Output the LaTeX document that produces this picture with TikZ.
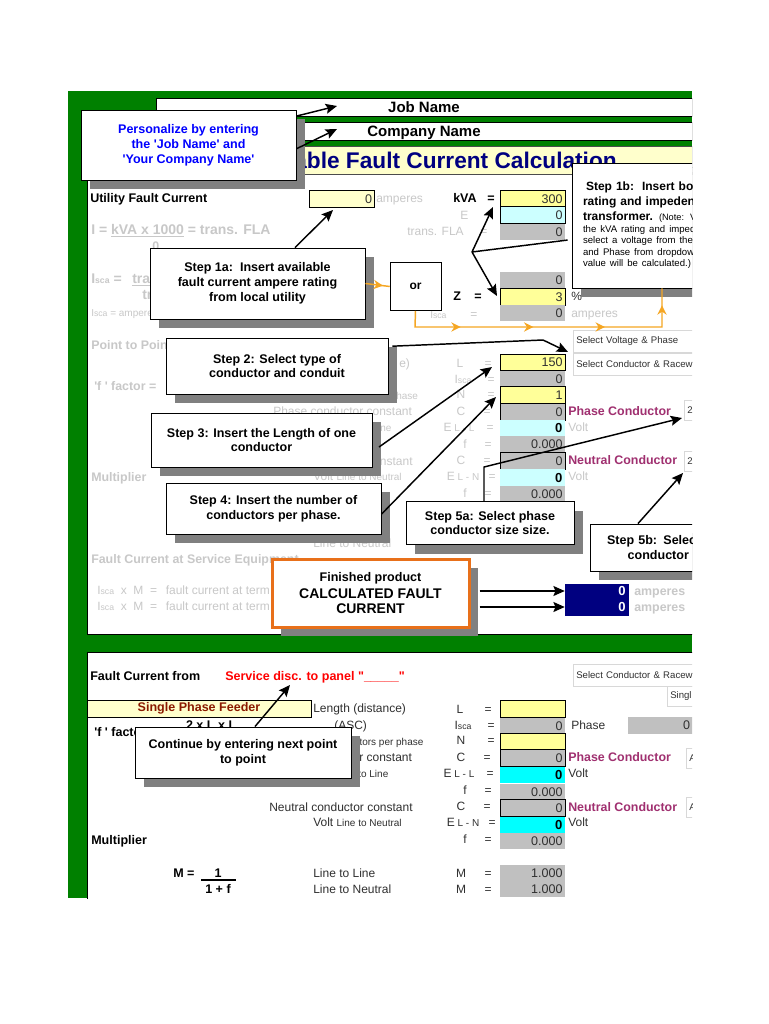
\documentclass[tikz,border=0pt]{standalone}
\usepackage{fontspec}
\setmainfont{Liberation Sans}
\usetikzlibrary{arrows.meta,shadows,decorations.markings}
\definecolor{sheetgreen}{HTML}{008000}
\definecolor{cellyellow}{HTML}{FFFF99}
\definecolor{paleyellow}{HTML}{FFFFCC}
\definecolor{palecyan}{HTML}{CCFFFF}
\definecolor{cellcyan}{HTML}{00FFFF}
\definecolor{cellgray}{HTML}{C0C0C0}
\definecolor{shadegray}{HTML}{808080}
\definecolor{fadetext}{HTML}{C8C8C8}
\definecolor{darktext}{HTML}{303030}
\definecolor{wirecolor}{HTML}{F5A623}
\definecolor{framecolor}{HTML}{E8701A}
\definecolor{condcolor}{HTML}{A03070}
\definecolor{feedercolor}{HTML}{8B1A00}
\definecolor{titlecolor}{HTML}{000080}
\definecolor{ddline}{HTML}{D8D8D8}
\newcommand{\isca}{I{\fontsize{6.5}{7}\selectfont sca}}
\newcommand{\sq}{\textquotesingle}
\begin{document}
\begin{tikzpicture}[x=0.75pt,y=-0.75pt]
	\edef\px{0.75pt}
	\tikzstyle{lbl}=[inner sep=0pt,text height=6.75pt,text depth=0pt,font=\fontsize{9}{11}\selectfont]
	\tikzstyle{fw}=[lbl,text=fadetext,anchor=west]
	\tikzstyle{fc}=[lbl,text=fadetext]
	\tikzstyle{fe}=[lbl,text=fadetext,anchor=east]
	\tikzstyle{fb}=[fw,font=\fontsize{9.3}{11}\selectfont\bfseries]
	\tikzstyle{fl}=[fw,font=\fontsize{10.5}{12}\selectfont\bfseries]
	\tikzstyle{fs}=[fw,font=\fontsize{7.5}{9}\selectfont]
	\tikzstyle{dw}=[lbl,text=darktext,anchor=west]
	\tikzstyle{dc}=[lbl,text=darktext]
	\tikzstyle{de}=[lbl,text=darktext,anchor=east]
	\tikzstyle{ds}=[dw,font=\fontsize{7.5}{9}\selectfont]
	\tikzstyle{kw}=[lbl,anchor=west,font=\fontsize{9.4}{11}\selectfont\bfseries]
	\tikzstyle{kc}=[lbl,font=\fontsize{9.4}{11}\selectfont\bfseries]
	\tikzstyle{cond}=[kw,text=condcolor,font=\fontsize{9.3}{11}\selectfont\bfseries]
	\tikzstyle{cell}=[inner xsep=1.5pt,inner ysep=0pt,minimum width=65*\px,text width=60*\px,align=right,minimum height=16.5*\px,font=\fontsize{9.4}{11}\selectfont,text=darktext]
	\tikzstyle{gcell}=[cell,fill=cellgray]
	\tikzstyle{gbcell}=[cell,fill=cellgray,draw=black]
	\tikzstyle{ycell}=[cell,fill=cellyellow,draw=black]
	\tikzstyle{cbcell}=[cell,fill=palecyan,draw=black]
	\tikzstyle{ccell}=[cell,fill=palecyan,font=\fontsize{9.8}{11}\selectfont\bfseries,text=black]
	\tikzstyle{acell}=[cell,fill=cellcyan,font=\fontsize{9.8}{11}\selectfont\bfseries,text=black]
	\tikzstyle{namebar}=[draw=black,fill=white,minimum height=18*\px,minimum width=536*\px,inner sep=0pt,text height=8pt,text depth=0pt,font=\fontsize{11.25}{13}\selectfont\bfseries]
	\tikzstyle{ddbox}=[draw=ddline,fill=white,anchor=west,inner xsep=2.25pt,inner ysep=0pt,minimum height=22*\px,align=left,font=\fontsize{7.2}{9}\selectfont,text=darktext]
	\tikzstyle{callout}=[draw=black,line width=0.7pt,fill=white,inner sep=0pt,align=center,font=\fontsize{9.4}{11.2}\selectfont\bfseries,drop shadow={fill=shadegray,opacity=1,shadow xshift=6.75pt,shadow yshift=-6.75pt}]
	\tikzstyle{pointer}=[draw=black,line width=1.1pt,-{Stealth[length=8.5pt,width=7.5pt,inset=1.5pt]}]
	\tikzstyle{wire}=[draw=wirecolor,line width=1.1pt]

	\useasboundingbox (0,0) rectangle (768,1024);
	\begin{scope}
	\clip (68,91) rectangle (692,898);

	% the sheet
	\fill [sheetgreen] (68,91) rectangle (692,898);
	\draw [black,fill=white,line width=0.6pt] (87,167) rectangle (700,634);
	\draw [black,fill=white,line width=0.6pt] (87,652) rectangle (700,910);

	\node [namebar] (job) at (424,107) {Job Name};
	\node [namebar] (company) at (424,131) {Company Name};
	\node [draw=black!70,fill=paleyellow,minimum width=536*\px,minimum height=28*\px,inner sep=0pt] (titlebar) at (424,160) {};
	\node [inner sep=0pt,anchor=east,text=titlecolor,font=\fontsize{17}{20}\selectfont\bfseries] (title) at (617,160) {able Fault Current Calculation};

	% faded text, upper sheet
	\foreach \x/\y/\sty/\txt [count=\i] in {
		91/230/fl/{I = \underline{kVA x 1000} = trans. FLA},
		152/246/fb/0,
		91/279/fl/{\isca\ =},
		132/279/fl/{\underline{tra}},
		142/295/fl/tr,
		91/312/fs/{\isca\ = ampere},
		91/345/fb/{Point to Point},
		94/386/fb/{\sq f \sq\ factor =},
		91/477/fb/Multiplier,
		91/559/fb/{Fault Current at Service Equipment},
		97/590/fw/{\isca\ \ x\ \ M\ \ =\ \ \,fault current at term},
		97/606/fw/{\isca\ \ x\ \ M\ \ =\ \ \,fault current at term},
		376/198/fw/amperes,
		571/313/fw/amperes,
		407/231/fw/{trans. FLA},
		460/215/fw/E,
		480/231/fw/=,
		430/314/fs/\isca,
		470/314/fw/=,
		568/427/fw/Volt,
		568/476/fw/Volt,
		399/363/fw/e),
		380/427/fs/ne,
		396/395/fs/hase,
		313/543/fw/{Line to Neutral},
		634/591/fb/amperes,
		634/607/fb/amperes
	} \node [\sty] (fade\i) at (\x,\y) {\txt};

	% text beside the cells, both sheets
	\foreach \oy/\sy/\sa/\pn in {0/fc/fw/a,346/dc/dw/b} {
		\foreach \lx/\ex/\ly/\lt [count=\i] in {
			460/488/363/L,
			463/491/379/\isca,
			461/491/394/N,
			461/487/411/C,
			459/490/427/{E{\fontsize{7.5}{9}\selectfont\ L - L}},
			465/488/444/f,
			461/487/460/C,
			463/492/476/{E{\fontsize{7.5}{9}\selectfont\ L - N}},
			465/488/493/f
		} {
			\node [\sy] (sym\pn\i) at (\lx,{\ly+\oy}) {\lt};
			\node [\sy] (eq\pn\i) at (\ex,{\ly+\oy}) {=};
		}
		\node [\sa] (pcc\pn) at (273,{411+\oy}) {Phase conductor constant};
		\node [\sa] (ncc\pn) at (269,{461+\oy}) {Neutral conductor constant};
		\node [\sa] (vln\pn) at (313,{476+\oy}) {Volt {\fontsize{7.5}{9}\selectfont Line to Neutral}};
	}

	% dark text
	\foreach \x/\y/\sty/\txt [count=\i] in {
		90/198/kw/{Utility Fault Current},
		453/198/kw/kVA,
		491/198/kc/=,
		453/296/kw/Z,
		478/296/kc/=,
		571/296/dw/\%,
		90/676/kw/{Fault Current from},
		94/732/kw/{\sq f \sq\ factor =},
		209/725/kc/{2 x L x I},
		91/840/kw/Multiplier,
		173/873/kw/{M =},
		218/873/kc/1,
		218/889/kc/{1 + f},
		313/708/dw/{Length (distance)},
		334/725/dw/{(ASC)},
		327/741/ds/{conductors per phase},
		313/773/dw/{Volt {\fontsize{7.5}{9}\selectfont Line to Line}},
		313/873/dw/{Line to Line},
		313/889/dw/{Line to Neutral},
		461/873/dc/M,
		461/889/dc/M,
		488/873/dc/=,
		488/889/dc/=,
		571/725/dw/Phase,
		568/773/dw/Volt,
		568/822/dw/Volt
	} \node [\sty] (dark\i) at (\x,\y) {\txt};
	\draw [black,line width=0.8pt] (201,880) -- (236,880);
	\node [kw,text=red] (panel) at (225,676) {Service disc. to panel \textquotedbl\_\_\_\_\_\textquotedbl};
	\node [draw=black,fill=paleyellow,minimum width=224*\px,minimum height=17*\px,inner sep=0pt,text=feedercolor,font=\fontsize{9.4}{11}\selectfont\bfseries] (feeder) at (199,708.5) {Single Phase Feeder};
	\node [cond] (phasea) at (568,411) {Phase Conductor};
	\node [cond] (neuta) at (568,460) {Neutral Conductor};
	\node [cond] (phaseb) at (568,757) {Phase Conductor};
	\node [cond] (neutb) at (568,807) {Neutral Conductor};

	% cells
	\node [cell,fill=paleyellow,draw=black] (utility) at (342,199) {0};
	\foreach \y/\sty/\val [count=\i] in {
		199/ycell/300, 215/cbcell/0, 232/gcell/0,
		280.5/gcell/0, 297/ycell/3, 313/gcell/0,
		362.5/ycell/150, 379/gcell/0, 395/ycell/1, 412/gbcell/0, 428/ccell/0,
		444.5/gcell/0.000, 461/gbcell/0, 477.5/ccell/0, 494/gcell/0.000
	} \node [\sty] (ca\i) at (532.5,\y) {\val};
	\foreach \y/\sty/\val [count=\i] in {
		709/ycell/{}, 726/gcell/0, 742/ycell/{}, 758/gbcell/0, 775/acell/0,
		792/gcell/0.000, 808/gbcell/0, 825/acell/0, 841/gcell/0.000,
		873/gcell/1.000, 889/gcell/1.000
	} \node [\sty] (cb\i) at (532.5,\y) {\val};
	\node [gcell] (cphase) at (660,725.5) {0};
	\node [fill=titlecolor,minimum width=64*\px,minimum height=32*\px,inner sep=0pt] (blue) at (597,600) {};
	\node [lbl,anchor=east,text=white,font=\fontsize{9.8}{11}\selectfont\bfseries] (bluea) at (626,591) {0};
	\node [lbl,anchor=east,text=white,font=\fontsize{9.8}{11}\selectfont\bfseries] (blueb) at (626,607) {0};

	% dropdowns
	\node [ddbox,text width=160*\px] (ddvolt) at (573,341) {Select Voltage \& Phase};
	\node [ddbox,text width=160*\px] (ddcond) at (573,364.5) {Select Conductor \& Racew};
	\node [ddbox,text width=160*\px] (ddcondb) at (573,675.5) {Select Conductor \& Racew};
	\node [ddbox,text width=60*\px,minimum height=20*\px] (ddsingle) at (667,696) {Singl};
	\node [ddbox,text width=30*\px,minimum height=20*\px] (sizea) at (684,410) {2};
	\node [ddbox,text width=30*\px,minimum height=20*\px] (sizeb) at (684,461) {2};
	\node [ddbox,text width=30*\px,minimum height=20*\px] (sizec) at (686,758) {A};
	\node [ddbox,text width=30*\px,minimum height=20*\px] (sized) at (686,807) {A};

	% callouts
	\node [callout,text=blue,minimum width=215*\px,minimum height=70*\px] (personal) at (188.5,145) {Personalize by entering\\the \sq Job Name\sq\ and\\\sq Your Company Name\sq};
	\node [callout,minimum width=215*\px,minimum height=71*\px] (s1a) at (257.5,283.5) {Step 1a:\ \ Insert available\\fault current ampere rating\\from local utility};
	\node [draw=black,fill=white,minimum width=51*\px,minimum height=48*\px,inner sep=0pt,font=\fontsize{9}{11}\selectfont\bfseries] (or) at (415.5,286.5) {or};
	\node [callout,minimum width=228*\px,minimum height=125*\px,align=left,text width=206*\px,font=\fontsize{9}{11}\selectfont] (s1b) at (686,225.5) {\hspace{2.25pt}\textbf{Step 1b:\ \ Insert bo}\\\textbf{rating and impeden}\\\textbf{transformer.} {\fontsize{6.9}{8.5}\selectfont(Note: V}\\[-2pt]
		{\fontsize{7.2}{8.5}\selectfont the kVA rating and imped}\\[-2.4pt]{\fontsize{7.2}{8.5}\selectfont select a voltage from the}\\[-2.4pt]{\fontsize{7.2}{8.5}\selectfont and Phase from dropdow}\\[-2.4pt]{\fontsize{7.2}{8.5}\selectfont value will be calculated.)}\\[7pt]};
	\node [callout,minimum width=222*\px,minimum height=56*\px] (s2) at (277,366) {Step 2: Select type of\\conductor and conduit};
	\node [callout,minimum width=221*\px,minimum height=54*\px] (s3) at (261.5,440) {Step 3: Insert the Length of one\\conductor};
	\node [callout,minimum width=215*\px,minimum height=51*\px] (s4) at (273.5,508.5) {Step 4: Insert the number of\\conductors per phase.};
	\node [callout,minimum width=168*\px,minimum height=43*\px] (s5a) at (490,523) {Step 5a: Select phase\\conductor size size.};
	\node [callout,minimum width=200*\px,minimum height=47*\px,align=left,text width=182*\px] (s5b) at (690,547.5) {\hspace{6pt}Step 5b: Selec\\\hspace{21.5pt}conductor};
	\node [callout,draw=framecolor,line width=2.25pt,minimum width=197*\px,minimum height=68*\px] (done) at (370.5,593) {Finished product\\[1pt]{\fontsize{10.5}{12}\selectfont CALCULATED FAULT}\\{\fontsize{10.5}{12}\selectfont CURRENT}};
	\node [callout,minimum width=216*\px,minimum height=51*\px] (s6) at (243,752.5) {Continue by entering next point\\to point};

	% free ends of the pointers
	\coordinate (tjob) at (337,106);
	\coordinate (tcomp) at (337,129);
	\coordinate (tutil) at (333,210);
	\coordinate (kink1) at (472,252);
	\coordinate (tkva) at (493,207);
	\coordinate (tz) at (497,296);
	\coordinate (kink2) at (543,340);
	\coordinate (tdd) at (568,352);
	\coordinate (tlen) at (492,367);
	\coordinate (tnum) at (496,397);
	\coordinate (kink3) at (484,467);
	\coordinate (tsizea) at (682,418);
	\coordinate (tsizeb) at (683,473);
	\coordinate (tpanel) at (290,685);
	\coordinate (wa) at (415,327);
	\coordinate (wb) at (662,327);

	\draw [pointer] (personal.15) -- (tjob);
	\draw [pointer] (personal.-2) -- (tcomp);
	\draw [pointer] (s1a.north -| 295,0) -- (tutil);
	\draw [draw=black,line width=1.1pt,shorten <=3pt] (s1b.187) -- (kink1);
	\draw [pointer] (kink1) -- (tkva);
	\draw [pointer] (kink1) -- (tz);
	\draw [pointer,shorten <=3pt] (s2.10) -- (kink2) -- (tdd);
	\draw [pointer,shorten <=6pt] (s3.-6) -- (tlen);
	\draw [pointer] (s4.-3) -- (tnum);
	\draw [pointer] (s5a.north -| 484,0) -- (kink3) -- (tsizea);
	\draw [pointer] (s5b.north -| 638,0) -- (tsizeb);
	\draw [pointer] (s6.north -| 255,0) -- (tpanel);
	\draw [pointer,shorten <=6.75pt] (done.east |- bluea) -- (blue.west |- bluea);
	\draw [pointer,shorten <=6.75pt] (done.east |- blueb) -- (blue.west |- blueb);

	% orange wires
	\draw [wire,postaction={decorate},decoration={markings,mark=at position 0.72 with {\arrow[wirecolor]{Stealth[length=7pt,width=7pt]}}}] (s1a.east) -- (or.west);
	\draw [wire,postaction={decorate},decoration={markings,
		mark=at position 0.205 with {\arrow[wirecolor]{Stealth[length=7pt,width=7pt]}},
		mark=at position 0.446 with {\arrow[wirecolor]{Stealth[length=7pt,width=7pt]}},
		mark=at position 0.683 with {\arrow[wirecolor]{Stealth[length=7pt,width=7pt]}},
		mark=at position 0.944 with {\arrow[wirecolor]{Stealth[length=7pt,width=7pt]}}}]
		(or.south) -- (wa) -- (wb) -- (s1b.south -| wb);
	\end{scope}
\end{tikzpicture}
\end{document}
